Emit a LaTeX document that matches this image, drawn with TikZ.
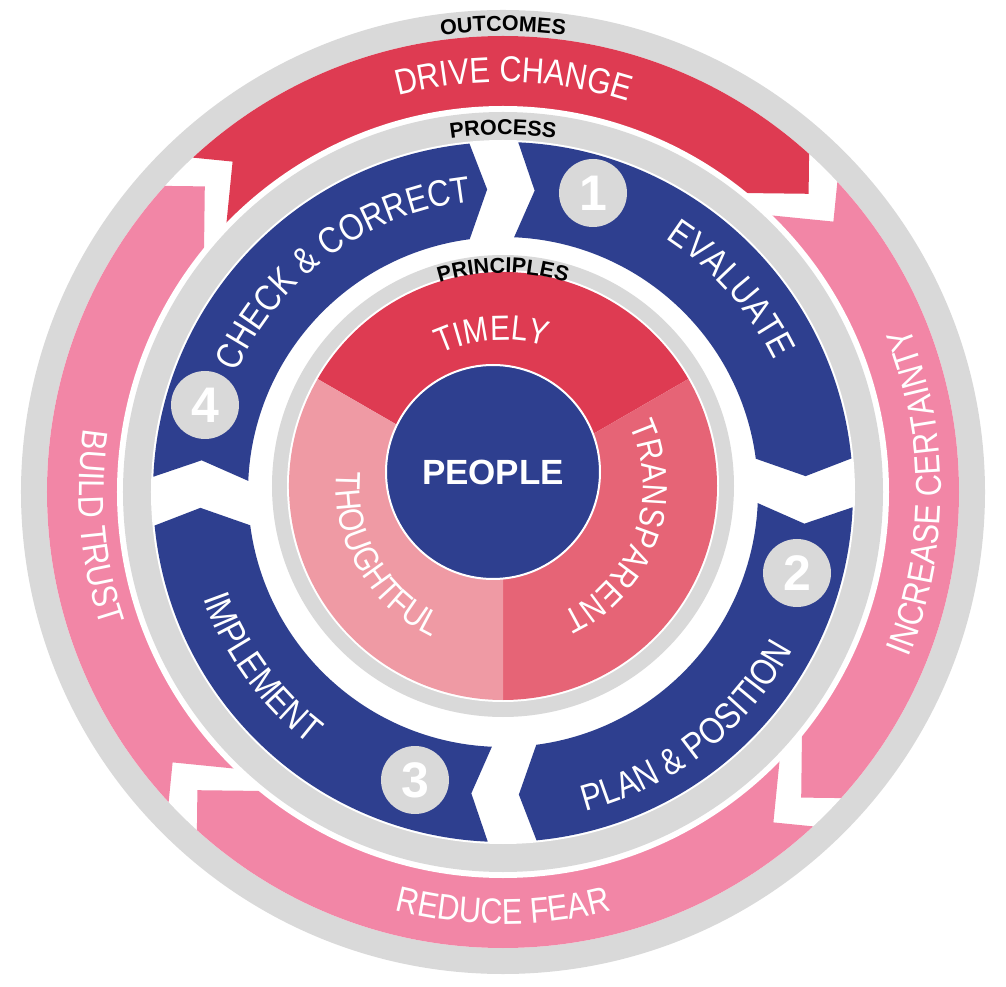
\documentclass[tikz,border=0pt]{standalone}
\usepackage{fontspec}
\setmainfont{Liberation Sans}
\newfontfamily\thinf[FakeStretch=0.85]{Liberation Sans}
\usetikzlibrary{decorations.text}
\definecolor{gry}{HTML}{D9D9D9}
\definecolor{blu}{HTML}{2E3F8F}
\definecolor{redc}{HTML}{DE3B52}
\definecolor{pnk}{HTML}{F286A6}
\definecolor{trn}{HTML}{E66476}
\definecolor{tht}{HTML}{EF9AA4}
\tikzset{
  numc/.style={circle, fill=gry, minimum size=68pt, inner sep=0pt, text=white, font=\bfseries\fontsize{50}{50}\selectfont},
  curvw/.style={decorate, decoration={text along path, text align=center, text color=white, text={#1}}},
  curvb/.style={decorate, decoration={text along path, text align=center, text color=black, text={#1}}},
}
\newcommand{\bandf}{\thinf\fontsize{36}{36}\selectfont}
\newcommand{\procf}{\thinf\fontsize{37}{37}\selectfont}
\newcommand{\pief}{\thinf\fontsize{35}{35}\selectfont}
\newcommand{\labf}{\bfseries\fontsize{21.5}{21.5}\selectfont}
\begin{document}
\begin{tikzpicture}[x=1pt,y=1pt]
\useasboundingbox (-503,-495) rectangle (503,492);
% outer ring
\fill[gry] (0,0) circle[radius=482];
\fill[white] (0,0) circle[radius=456];
% ribbons
\begin{scope}
\clip (0,0) circle[radius=456];
\foreach \k/\c in {0/redc,1/pnk,2/pnk,3/pnk}{
  \begin{scope}[rotate=-90*\k]
  \fill[\c] (105.6,300.6) -- (305.6,298.2) -- (308,498) -- (60:1000) -- (100:1000) -- (150:1000)
     -- (-469.4,350.3) -- (-270.4,330.4) -- (-290.3,131.4) -- (0,0) -- cycle;
  \end{scope}
}
\end{scope}
\fill[white] (0,0) circle[radius=386];
\fill[gry] (0,0) circle[radius=380];
\fill[white] (0,0) circle[radius=352];
% process segments
\foreach \k in {0,1,2,3}{
  \begin{scope}[rotate=-90*\k]
  \fill[blu] (87.5:350) arc[start angle=87.5,end angle=5.5,radius=350] -- (3:303) -- (7.5:255)
     arc[start angle=7.5,end angle=87.5,radius=255] -- (84:303) -- cycle;
  \end{scope}
}
\node[numc] (n1) at (90,299) {1};
\node[numc] (n2) at (294,-81) {2};
\node[numc] (n3) at (-88,-288) {3};
\node[numc] (n4) at (-298,87) {4};
% principles
\fill[gry] (0,6) circle[radius=231];
\fill[white] (0,6) circle[radius=216];
\fill[redc] (0,6) -- ++(30:214) arc[start angle=30,end angle=150,radius=214] -- cycle;
\fill[trn] (0,6) -- ++(-90:214) arc[start angle=-90,end angle=30,radius=214] -- cycle;
\fill[tht] (0,6) -- ++(150:214) arc[start angle=150,end angle=270,radius=214] -- cycle;
\node[circle, fill=blu, draw=white, line width=2pt, minimum size=214pt, inner sep=0pt,
  text=white, font=\bfseries\fontsize{35}{35}\selectfont] (people) at (-10,20) {PEOPLE};
% labels
\path[curvb={|\labf|OUTCOMES}] (150:461) arc[start angle=150,end angle=30,radius=461];
\path[curvb={|\labf|PROCESS}] (150:357) arc[start angle=150,end angle=30,radius=357];
\path[curvb={|\labf|PRINCIPLES}] ([shift={(0,6)}]150:213) arc[start angle=150,end angle=30,radius=213];
% band texts
\path[curvw={|\bandf|DRIVE CHANGE}] (150:410) arc[start angle=150,end angle=27,radius=410];
\path[curvw={|\bandf|INCREASE CERTAINTY}] (-60:438) arc[start angle=-60,end angle=60,radius=438];
\path[curvw={|\bandf|REDUCE FEAR}] (210:432) arc[start angle=210,end angle=330,radius=432];
\path[curvw={|\bandf|BUILD TRUST}] (125:424) arc[start angle=125,end angle=245,radius=424];
% process texts
\path[curvw={|\procf|CHECK {\&} CORRECT}] (186:292) arc[start angle=186,end angle=66,radius=292];
\path[curvw={|\procf|EVALUATE}] (101.6:301) arc[start angle=101.6,end angle=-18.4,radius=301];
\path[curvw={|\procf|PLAN {\&} POSITION}] (-112:330) arc[start angle=-112,end angle=8,radius=330];
\path[curvw={|\procf|IMPLEMENT}] (156:318) arc[start angle=156,end angle=276,radius=318];
% pie texts
\path[curvw={|\pief|TIMELY}] ([shift={(0,6)}]154:146) arc[start angle=154,end angle=34,radius=146];
\path[curvw={|\pief|TRANSPARENT}] ([shift={(0,6)}]40:140) arc[start angle=40,end angle=-80,radius=140];
\path[curvw={|\pief|THOUGHTFUL}] ([shift={(0,6)}]150:167) arc[start angle=150,end angle=270,radius=167];
\end{tikzpicture}
\end{document}
